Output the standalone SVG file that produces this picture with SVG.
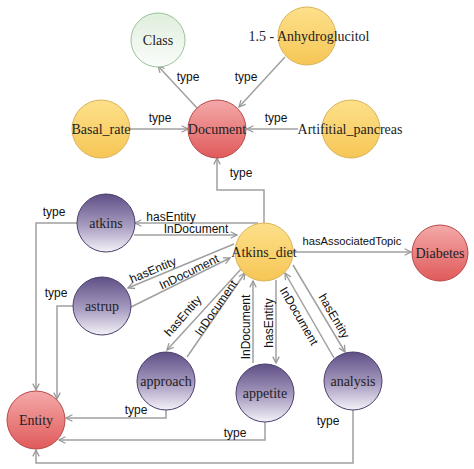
<svg xmlns="http://www.w3.org/2000/svg" width="474" height="469" viewBox="0 0 474 469">
<defs>
<linearGradient id="gGreen" x1="0" y1="0" x2="0" y2="1"><stop offset="0" stop-color="#dfeedd"/><stop offset="1" stop-color="#fbfdfb"/></linearGradient>
<linearGradient id="gYellow" x1="0" y1="0" x2="0" y2="1"><stop offset="0" stop-color="#fde08a"/><stop offset="1" stop-color="#f6c656"/></linearGradient>
<linearGradient id="gRed" x1="0" y1="0" x2="0" y2="1"><stop offset="0" stop-color="#f4a9a9"/><stop offset="1" stop-color="#e05a5a"/></linearGradient>
<linearGradient id="gPurple" x1="0" y1="0" x2="0" y2="1"><stop offset="0" stop-color="#5f4f86"/><stop offset="0.55" stop-color="#a89cc0"/><stop offset="1" stop-color="#f4f2f8"/></linearGradient>
<marker id="arr" viewBox="0 0 10 10" refX="9" refY="5" markerWidth="8" markerHeight="8" markerUnits="userSpaceOnUse" orient="auto">
<path d="M1,1 L9,5 L1,9" fill="none" stroke="#999" stroke-width="1.6"/>
</marker>
</defs>
<style>
.e{fill:none;stroke:#a0a0a0;stroke-width:1.5;marker-end:url(#arr)}
.lbl{font-family:"Liberation Sans",Arial,sans-serif;font-size:12px;fill:#111;text-anchor:middle}
.nt{font-family:"Liberation Serif","Times New Roman",serif;font-size:14px;fill:#222;text-anchor:middle}
.green{fill:url(#gGreen);stroke:#98c598;stroke-width:1}
.yellow{fill:url(#gYellow);stroke:#d9b35a;stroke-width:1}
.red{fill:url(#gRed);stroke:#b84848;stroke-width:1}
.purple{fill:url(#gPurple);stroke:#4a3d6c;stroke-width:1}
</style>
<rect width="474" height="469" fill="#fff"/>
<g id="connectors">
<line class="e" x1="197" y1="108" x2="158" y2="66"/>
<text class="lbl" x="188" y="81">type</text>
<line class="e" x1="285" y1="57" x2="239" y2="107"/>
<text class="lbl" x="246" y="81">type</text>
<line class="e" x1="130" y1="129" x2="188" y2="129"/>
<text class="lbl" x="160" y="122">type</text>
<line class="e" x1="298" y1="129" x2="247" y2="129"/>
<text class="lbl" x="276" y="122">type</text>
<polyline class="e" points="264,223 264,190 217,190 217,158"/>
<text class="lbl" x="241" y="177">type</text>
<line class="e" x1="258" y1="223" x2="135" y2="223"/>
<text class="lbl" x="171" y="221">hasEntity</text>
<line class="e" x1="134" y1="235" x2="237" y2="235"/>
<text class="lbl" x="196" y="233">InDocument</text>
<line class="e" x1="234" y1="244" x2="128" y2="288"/>
<text class="lbl" transform="translate(153,270) rotate(-23)" y="4">hasEntity</text>
<line class="e" x1="131" y1="307" x2="230" y2="258"/>
<text class="lbl" transform="translate(189,272) rotate(-26)" y="4">InDocument</text>
<line class="e" x1="242" y1="268" x2="167" y2="350"/>
<text class="lbl" transform="translate(183,316) rotate(-49)" y="4">hasEntity</text>
<line class="e" x1="187" y1="357" x2="245" y2="273"/>
<text class="lbl" transform="translate(216,308) rotate(-55)" y="4">InDocument</text>
<line class="e" x1="253" y1="363" x2="253" y2="281"/>
<text class="lbl" transform="translate(246,327) rotate(-90)" y="4">InDocument</text>
<line class="e" x1="276" y1="280" x2="276" y2="363"/>
<text class="lbl" transform="translate(269,323) rotate(-90)" y="4">hasEntity</text>
<line class="e" x1="334" y1="358" x2="285" y2="273"/>
<text class="lbl" transform="translate(299,316) rotate(60)" y="4">InDocument</text>
<line class="e" x1="293" y1="265" x2="345" y2="352"/>
<text class="lbl" transform="translate(334,316) rotate(60)" y="4">hasEntity</text>
<line class="e" x1="293" y1="252" x2="411" y2="252"/>
<text class="lbl" x="352" y="245" style="font-size:11.2px">hasAssociatedTopic</text>
<polyline class="e" points="77,223 36,223 36,390"/>
<text class="lbl" x="54" y="216">type</text>
<polyline class="e" points="73,306 57,306 57,399"/>
<text class="lbl" x="56" y="297">type</text>
<polyline class="e" points="166,410 166,418 66,418"/>
<text class="lbl" x="136" y="414">type</text>
<polyline class="e" points="265,422 265,440 59,440"/>
<text class="lbl" x="235" y="437">type</text>
<polyline class="e" points="353,410 353,463 36,463 36,450"/>
<text class="lbl" x="328" y="425">type</text>
</g>
<g id="node-class"><circle class="green" cx="158" cy="40" r="27"/><text class="nt" x="158" y="45">Class</text></g>
<g id="node-anhydroglucitol"><circle class="yellow" cx="307" cy="36" r="29"/><text class="nt" x="309" y="41">1.5 - Anhydroglucitol</text></g>
<g id="node-basal-rate"><circle class="yellow" cx="101" cy="129" r="29"/><text class="nt" x="101" y="134">Basal_rate</text></g>
<g id="node-document"><circle class="red" cx="217" cy="129" r="29"/><text class="nt" x="217" y="134">Document</text></g>
<g id="node-artifitial-pancreas"><circle class="yellow" cx="351" cy="129" r="29"/><text class="nt" x="350" y="134">Artifitial_pancreas</text></g>
<g id="node-atkins-diet"><circle class="yellow" cx="264" cy="252" r="29"/><text class="nt" x="264" y="257">Atkins_diet</text></g>
<g id="node-diabetes"><circle class="red" cx="440" cy="253" r="28"/><text class="nt" x="440" y="258">Diabetes</text></g>
<g id="node-atkins"><circle class="purple" cx="106" cy="223" r="29"/><text class="nt" x="106" y="228">atkins</text></g>
<g id="node-astrup"><circle class="purple" cx="102" cy="306" r="29"/><text class="nt" x="102" y="311">astrup</text></g>
<g id="node-approach"><circle class="purple" cx="166" cy="381" r="29"/><text class="nt" x="166" y="386">approach</text></g>
<g id="node-appetite"><circle class="purple" cx="265" cy="393" r="29"/><text class="nt" x="265" y="398">appetite</text></g>
<g id="node-analysis"><circle class="purple" cx="353" cy="381" r="29"/><text class="nt" x="353" y="386">analysis</text></g>
<g id="node-entity"><circle class="red" cx="36" cy="420" r="29"/><text class="nt" x="36" y="425">Entity</text></g>
</svg>
